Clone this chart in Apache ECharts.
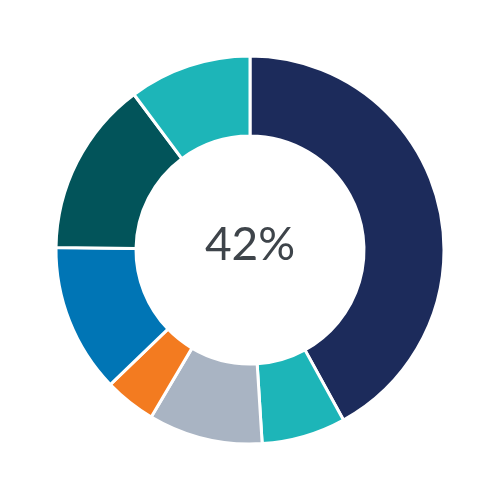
<!DOCTYPE html>
<html>
<head>
<meta charset="utf-8">
<script src="https://cdn.jsdelivr.net/npm/echarts@6/dist/echarts.min.js"></script>
<style>html,body{margin:0;padding:0;background:#fff}#c{width:500px;height:500px}</style>
</head>
<body>
<div id="c"></div>
<script>
const categories = ['A', 'B', 'C', 'D', 'E', 'F', 'G'];
const values = [42, 7, 9.5, 4.3, 12.4, 14.6, 10.2];
const colors = ['#1c2b5b', '#1db5b8', '#a9b4c3', '#f37b20', '#0075b5', '#02545a', '#1db5b8'];
const centerLabel = '42%';

const chart = echarts.init(document.getElementById('c'), null, {renderer: 'canvas'});
chart.setOption({
  animation: false,
  graphic: [{
    type: 'text',
    left: 'center',
    top: 222,
    style: {text: centerLabel, fontFamily: 'Lato', fontSize: 46, fontWeight: 'normal', fill: '#3e444a'}
  }],
  series: [{
    type: 'pie',
    center: [250, 250],
    radius: [114, 194],
    startAngle: 90,
    clockwise: true,
    label: {show: false},
    labelLine: {show: false},
    itemStyle: {borderColor: '#fff', borderWidth: 3},
    data: categories.map((c, i) => ({name: c, value: values[i], itemStyle: {color: colors[i]}}))
  }]
});
</script>
</body>
</html>
